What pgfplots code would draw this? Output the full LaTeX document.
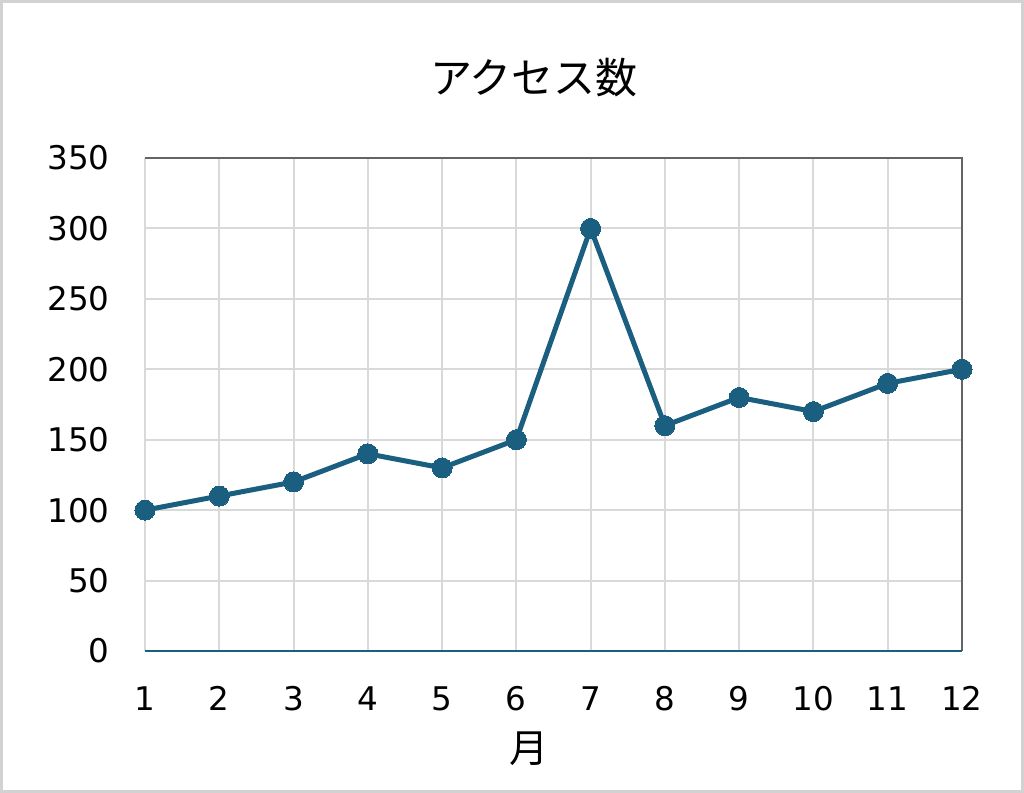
\documentclass[border=0pt]{standalone}
\usepackage{pgfplots}
\pgfplotsset{compat=1.18}
\usepackage{fontspec}
\setmainfont{DejaVu Sans}
\newfontfamily\jp{Noto Sans CJK JP}
\definecolor{lineblue}{RGB}{26,94,128}
\definecolor{gridgray}{RGB}{217,217,217}
\definecolor{framegray}{RGB}{100,100,100}
\definecolor{bordergray}{RGB}{210,210,210}
\begin{document}
\begin{tikzpicture}
\useasboundingbox (-72.5pt,-71pt) rectangle (439.5pt,325.5pt);
\draw[bordergray, line width=1.5pt] (-71.75pt,-70.25pt) rectangle (438.75pt,324.75pt);
\begin{axis}[
  at={(0,0)}, anchor=south west,
  scale only axis,
  width=408.5pt, height=246.5pt,
  xmin=1, xmax=12, ymin=0, ymax=350,
  xtick={1,...,12},
  ytick={0,50,...,350},
  grid=major,
  major grid style={gridgray, line width=1pt},
  axis line style={draw=none},
  major tick length=0pt,
  tick label style={font=\fontsize{16.3}{19}\selectfont, inner sep=0pt},
  /pgf/number format/assume math mode=true,
  yticklabel style={anchor=east, xshift=-17.5pt},
  xticklabel style={anchor=north, yshift=-17.5pt},
  clip=false,
]
\draw[gridgray, line width=1pt] (rel axis cs:0,0) -- (rel axis cs:0,1);
\draw[framegray, line width=1pt] (rel axis cs:0,1) -- (rel axis cs:1,1) -- (rel axis cs:1,0);
\draw[lineblue, line width=1pt] (rel axis cs:0,0) -- (rel axis cs:1,0);
\addplot[lineblue, line width=2.5pt, mark=*, mark size=5pt, mark options={fill=lineblue, line width=0pt}]
coordinates {(1,100) (2,110) (3,120) (4,140) (5,130) (6,150) (7,300) (8,160) (9,180) (10,170) (11,190) (12,200)};
\end{axis}
\node[font=\jp\fontsize{21}{25}\selectfont] at (194.5pt,286.5pt) {アクセス数};
\node[font=\jp\fontsize{19.5}{23}\selectfont] at (192pt,-49pt) {月};
\end{tikzpicture}
\end{document}
